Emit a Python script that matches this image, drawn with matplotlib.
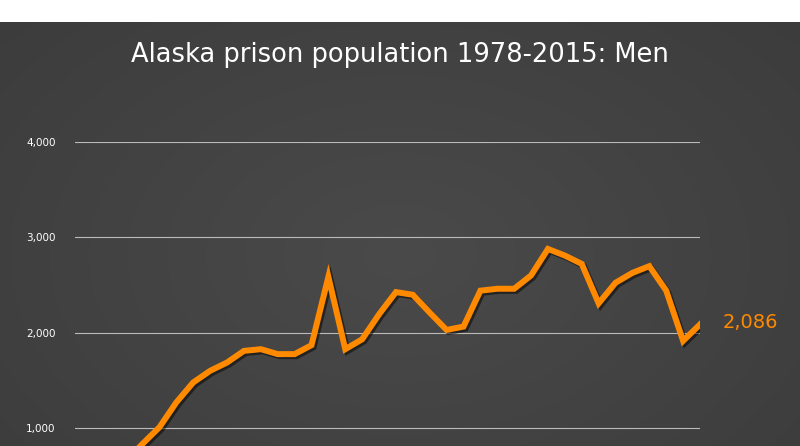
import matplotlib
matplotlib.use("Agg")
import matplotlib.pyplot as plt
import matplotlib.patheffects as pe
import numpy as np

years = list(range(1978, 2016))
men = [250, 350, 480, 650, 833, 1007, 1268, 1477, 1599, 1686,
       1808, 1826, 1774, 1774, 1868, 2585, 1826, 1930, 2192, 2425,
       2397, 2209, 2028, 2063, 2440, 2460, 2460, 2600, 2878, 2808,
       2721, 2307, 2523, 2627, 2697, 2440, 1913, 2086]
yticks = [1000, 2000, 3000, 4000]

W, H = 800, 446
fig = plt.figure(figsize=(W / 100, H / 100), dpi=100)
fig.patch.set_facecolor("white")

# dark radial-gradient background below the white strip
bg = fig.add_axes([0, 0, 1, (H - 22) / H])
yy, xx = np.mgrid[0:1:200j, 0:1:400j]
r = np.sqrt((xx - 0.5) ** 2 + ((yy - 0.55) * 0.8) ** 2)
shade = 0.29 - 0.08 * r
bg.imshow(np.dstack([shade] * 3), aspect="auto", extent=[0, 1, 0, 1])
bg.set_axis_off()

ax = fig.add_axes([75 / W, 0, 625 / W, (H - 142) / H])
ax.patch.set_alpha(0)
ax.plot(years, men, color="#FF8A00", lw=4.3, solid_joinstyle="miter", zorder=3,
        path_effects=[pe.SimpleLineShadow(offset=(1.5, -1.5), shadow_color="black", alpha=0.5),
                      pe.Normal()])
ax.set_xlim(1978, 2015)
ax.set_ylim(810, 4000)
ax.set_yticks(yticks)
ax.set_yticklabels([f"{v:,}" for v in yticks], color="white", fontsize=7.5)
ax.tick_params(axis="y", length=0, pad=14)
ax.set_xticks([])
ax.grid(axis="y", color="#bbbbbb", lw=0.8)
for s in ax.spines.values():
    s.set_visible(False)
ax.text(2018.0, men[-1] + 20, f"{men[-1]:,}", color="#FF8A00", fontsize=14,
        va="center", ha="center", family="DejaVu Sans", clip_on=False)

fig.text(0.5, (H - 55) / H, "Alaska prison population 1978-2015: Men", color="white",
         fontsize=18.5, ha="center", va="center", family="DejaVu Sans")

fig.savefig("out.png", dpi=100, facecolor=fig.get_facecolor())
